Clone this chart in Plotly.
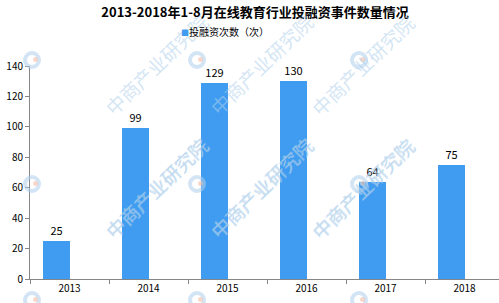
import plotly.graph_objects as go

years = ["2013", "2014", "2015", "2016", "2017", "2018"]
counts = [25, 99, 129, 130, 64, 75]
series_name = "投融资次数（次）"
title_text = "2013-2018年1-8月在线教育行业投融资事件数量情况"
y_ticks = [0, 20, 40, 60, 80, 100, 120, 140]
watermark_text = "中商产业研究院"

font_cjk = "Noto Sans CJK SC"
bar_color = "#3F9CF0"

# pixel -> paper helpers (plot area: x 30..499, y 66..279)
L, R, T, B = 30, 499, 66, 279
def px2x(px):
    return (px - L) / (R - L)
def py2y(py):
    return (B - py) / (B - T)

fig = go.Figure()
fig.add_trace(go.Bar(
    x=years, y=counts, name=series_name,
    marker=dict(color=bar_color, line=dict(width=0)),
    width=0.34, offset=-0.34,
    text=[str(v) for v in counts], textposition="outside",
    textfont=dict(family=font_cjk, size=11, color="#000000"),
    cliponaxis=False, showlegend=False,
))

# watermark grid
logo_xs = [32, 197, 359]
logo_ys = [60, 184, 300]
for lx in logo_xs:
    for ly in logo_ys:
        fig.add_shape(type="circle", xref="paper", yref="paper",
                      x0=px2x(lx - 7), x1=px2x(lx + 7), y0=py2y(ly + 7), y1=py2y(ly - 7),
                      line=dict(color="rgba(175,208,236,0.55)", width=4),
                      fillcolor="rgba(0,0,0,0)", layer="above")
        fig.add_shape(type="circle", xref="paper", yref="paper",
                      x0=px2x(lx + 1), x1=px2x(lx + 6), y0=py2y(ly + 2), y1=py2y(ly - 3),
                      line=dict(width=0), fillcolor="rgba(245,190,170,0.6)", layer="above")
        fig.add_annotation(
            x=px2x(lx + 64), y=py2y(ly - 54), xref="paper", yref="paper",
            text=watermark_text, showarrow=False, textangle=-44,
            font=dict(family=font_cjk, size=19, color="rgba(175,208,236,0.55)"),
        )

# legend as text
fig.add_annotation(
    x=px2x(179), y=py2y(32), xref="paper", yref="paper", xanchor="left", yanchor="middle",
    text=f"<span style='color:{bar_color};font-size:8px'>■</span>{series_name}",
    showarrow=False, font=dict(family=font_cjk, size=10, color="#000000"),
)

fig.update_layout(
    width=499, height=303,
    margin=dict(l=L, r=499 - R, t=T, b=303 - B),
    paper_bgcolor="white", plot_bgcolor="white",
    showlegend=False,
    title=dict(text=f"<b>{title_text}</b>", x=255 / 499, xanchor="center",
               y=1 - 12 / 303, yanchor="middle",
               font=dict(family=font_cjk, size=13, color="#000000")),
    xaxis=dict(type="category", range=[-0.5, -0.5 + 469 / 79],
               showline=True, linecolor="#868686", linewidth=1,
               ticks="outside", tickson="boundaries", ticklen=4, tickcolor="#868686",
               showgrid=False,
               tickfont=dict(family=font_cjk, size=10, color="#000000")),
    yaxis=dict(range=[0, 140], tickvals=y_ticks, showline=True,
               linecolor="#868686", linewidth=1, ticks="outside", ticklen=4,
               tickcolor="#868686", showgrid=False, zeroline=False,
               tickfont=dict(family=font_cjk, size=10, color="#000000")),
    bargap=0,
)

fig.write_html("out.html")
